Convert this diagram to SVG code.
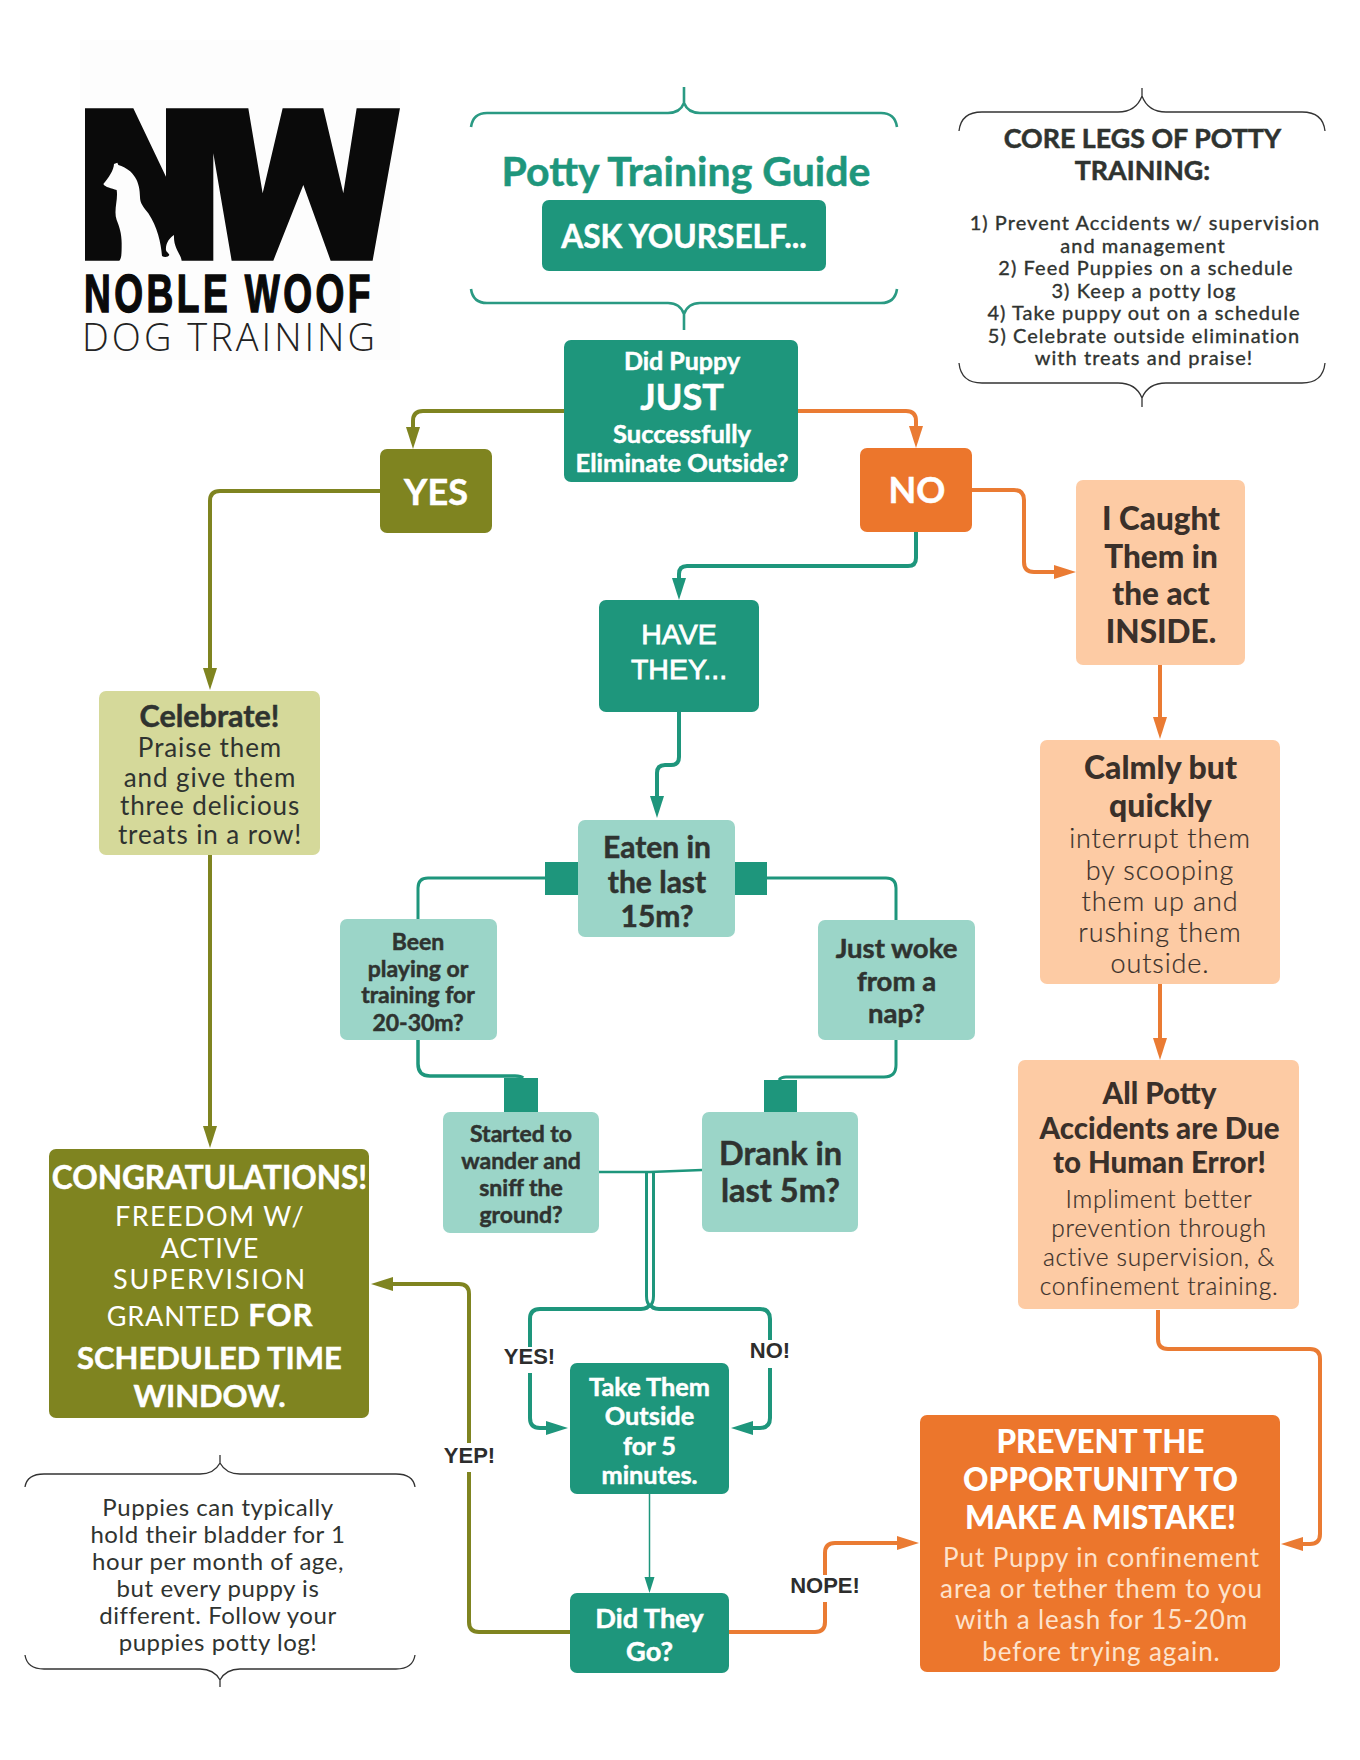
<svg xmlns="http://www.w3.org/2000/svg" width="1360" height="1760" viewBox="0 0 1360 1760">
<style>
text{font-family:Lato,"Liberation Sans",sans-serif;text-anchor:middle}
.b{font-weight:700;stroke-width:.5}.h{font-weight:900}
.w{fill:#fff}.d{fill:#2f3330}.br{fill:#3a302a}
.b.w{stroke:#fff}.b.d{stroke:#2f3330}
.teal{fill:#1e967c}.mint{fill:#9bd5c8}.oli{fill:#7f8420}.lime{fill:#d5d99a}.org{fill:#ec762c}.pch{fill:#fdcba4}
.body{letter-spacing:.9px}
.thin{font-weight:300;stroke:#3a302a;stroke-width:.2}
.lab{font-family:"Liberation Sans",Arial,sans-serif;font-weight:700;font-size:22px;fill:#2d2d2d}
.c{fill:none;stroke-width:4}
.ct{stroke:#1e967c}.co{stroke:#7f8420}.cr{stroke:#ea7b33}
.br1{fill:none;stroke:#333;stroke-width:1.3}
.br2{fill:none;stroke:#2a9a83;stroke-width:3}
</style>
<defs>
<marker id="at" markerUnits="userSpaceOnUse" markerWidth="22" markerHeight="16" refX="12" refY="8" orient="auto"><path d="M0 1L22 8L0 15Z" fill="#1e967c"/></marker>
<marker id="ao" markerUnits="userSpaceOnUse" markerWidth="22" markerHeight="16" refX="12" refY="8" orient="auto"><path d="M0 1L22 8L0 15Z" fill="#7f8420"/></marker>
<marker id="ar" markerUnits="userSpaceOnUse" markerWidth="22" markerHeight="16" refX="12" refY="8" orient="auto"><path d="M0 1L22 8L0 15Z" fill="#ea7b33"/></marker>
<marker id="as" markerUnits="userSpaceOnUse" markerWidth="16" markerHeight="12" refX="8" refY="6" orient="auto"><path d="M0 1L16 6L0 11Z" fill="#1e967c"/></marker>
</defs>
<rect width="1360" height="1760" fill="#fff"/>

<g id="logo">
<rect x="80" y="40" width="320" height="320" fill="#fdfdfd"/>
<g transform="translate(60 30) scale(.3333)">
<path d="M75 235H220L318 440V235H565L608 490L668 235H790L850 490L890 235H1020L938 692H812L730 465L640 692H515L460 370V692H365C362 670 340 655 342 615C330 622 316 640 318 660C320 668 328 670 328 675C325 682 312 682 306 678C303 640 292 590 265 550C250 530 240 520 240 500C240 460 225 420 175 405L172 398L162 402C162 420 145 445 130 462C135 472 155 475 170 480C175 510 160 540 170 570C178 590 185 610 185 640C185 670 185 685 178 692H75Z" fill="#0a0a0a"/>
</g>
<text transform="translate(229 312) scale(.7 1)" x="0" y="0" font-weight="700" font-size="53" fill="#0a0a0a" stroke="#0a0a0a" stroke-width="1.4" letter-spacing="4.9" style="font-family:'Liberation Sans',sans-serif">NOBLE WOOF</text>
<text x="228.5" y="351" font-size="38" fill="#222" textLength="293" lengthAdjust="spacing" style="font-family:'Open Sans',sans-serif;font-weight:300">DOG TRAINING</text>
</g>

<g id="connectors">
<path class="c co" marker-end="url(#ao)" d="M564 411H423Q413 411 413 421V439"/>
<path class="c cr" marker-end="url(#ar)" d="M798 411H906Q916 411 916 421V438"/>
<path class="c co" marker-end="url(#ao)" d="M380 491H220Q210 491 210 501V680"/>
<path class="c co" d="M210 855V1138" marker-end="url(#ao)"/>
<path class="c cr" marker-end="url(#ar)" d="M972 490H1014Q1024 490 1024 500V562Q1024 572 1034 572H1066"/>
<path class="c cr" marker-end="url(#ar)" d="M1160 665V729"/>
<path class="c cr" marker-end="url(#ar)" d="M1160 984V1050"/>
<path class="c cr" marker-end="url(#ar)" d="M1158 1310V1339Q1158 1349 1168 1349H1310Q1320 1349 1320 1359V1534Q1320 1544 1310 1544H1291"/>
<path class="c ct" marker-end="url(#at)" d="M916 532V558Q916 566 908 566H687Q679 566 679 574V590"/>
<path class="c ct" marker-end="url(#at)" d="M679 712V757Q679 765 671 765H665Q657 765 657 773V808"/>
<path class="c ct" d="M545 878H428Q418 878 418 888V919" style="stroke-width:3"/>
<path class="c ct" d="M767 878H886Q896 878 896 888V920" style="stroke-width:3"/>
<path class="c ct" d="M418 1040V1064Q418 1076 430 1076H515Q521 1076 523 1078" style="stroke-width:3.5"/>
<path class="c ct" d="M896 1040V1065Q896 1077 884 1077H786Q781 1077 779 1080" style="stroke-width:3"/>
<path class="c ct" d="M599 1172H650L702 1170" style="stroke-width:2.5"/>
<path class="c ct" d="M646.5 1172V1296Q646.5 1303 650 1306Q653.5 1303 653.5 1296V1172" style="stroke-width:3"/>
<path class="c ct" marker-end="url(#at)" d="M650 1304Q648 1309 641 1309H540Q530 1309 530 1319V1418Q530 1428 540 1428H558"/>
<path class="c ct" marker-end="url(#at)" d="M650 1304Q652 1309 659 1309H760Q770 1309 770 1319V1418Q770 1428 760 1428H741"/>
<path class="c ct" marker-end="url(#as)" d="M649.5 1494V1585" style="stroke-width:1.5"/>
<path class="c co" marker-end="url(#ao)" d="M570 1632H479Q469 1632 469 1622V1294Q469 1284 459 1284H381"/>
<path class="c cr" marker-end="url(#ar)" d="M729 1632H815Q825 1632 825 1622V1553Q825 1543 835 1543H909"/>
<rect x="510" y="1347" width="40" height="26" fill="#fff"/>
<rect x="750" y="1340" width="40" height="28" fill="#fff"/>
<rect x="450" y="1443" width="40" height="29" fill="#fff"/>
<rect x="805" y="1575" width="40" height="27" fill="#fff"/>
</g>
<text class="lab" x="529.5" y="1364">YES!</text>
<text class="lab" x="770" y="1358">NO!</text>
<text class="lab" x="469.5" y="1463">YEP!</text>
<text class="lab" x="825" y="1593">NOPE!</text>

<g id="title">
<path d="M471 127Q473 113 487 113H668Q680 113 684 103V87V103Q688 113 700 113H881Q895 113 897 127" fill="none" stroke="#2a9a83" stroke-width="2.6"/>
<text class="b" x="686" y="186" font-size="41" fill="#1e967c" stroke="#1e967c" stroke-width=".5">Potty Training Guide</text>
</g>
<g id="ask"><rect class="teal" x="542" y="200" width="284" height="71" rx="7"/><text class="b w" x="684" y="248" font-size="31.6">ASK YOURSELF...</text></g>
<path d="M471 289Q473 303 487 303H668Q680 303 684 314V330V314Q688 303 700 303H881Q895 303 897 289" fill="none" stroke="#2a9a83" stroke-width="2.6"/>

<g id="core">
<path class="br1" d="M959 131Q961 112 982 112H1118Q1136 112 1142 96V88V96Q1148 112 1166 112H1302Q1323 112 1325 131"/>
<text class="b d" x="1142.5" y="148" font-size="26.8">CORE LEGS OF POTTY</text>
<text class="b d" x="1142.5" y="180" font-size="26.8">TRAINING:</text>
<g class="d body" font-size="20" style="letter-spacing:1.05px" stroke="#2f3330" stroke-width=".35">
<text x="1145" y="230">1) Prevent Accidents w/ supervision</text>
<text x="1143" y="253">and management</text>
<text x="1146" y="275">2) Feed Puppies on a schedule</text>
<text x="1144" y="298">3) Keep a potty log</text>
<text x="1144" y="320">4) Take puppy out on a schedule</text>
<text x="1144" y="343">5) Celebrate outside elimination</text>
<text x="1144" y="365">with treats and praise!</text>
</g>
<path class="br1" d="M959 363Q961 383 982 383H1118Q1136 383 1142 398V407V398Q1148 383 1166 383H1302Q1323 383 1325 363"/>
</g>

<g id="just"><rect class="teal" x="564" y="340" width="234" height="142" rx="7"/>
<g class="b w"><text x="682" y="370" font-size="25">Did Puppy</text><text x="682" y="410" font-size="36">JUST</text><text x="682" y="443" font-size="25.5">Successfully</text><text x="682" y="472" font-size="25.5">Eliminate Outside?</text></g></g>
<g id="yes"><rect class="oli" x="380" y="449" width="112" height="84" rx="7"/><text class="b w" x="436" y="505" font-size="36">YES</text></g>
<g id="no"><rect class="org" x="860" y="448" width="112" height="84" rx="7"/><text class="b w" x="917" y="503" font-size="36">NO</text></g>
<g id="celebrate"><rect class="lime" x="99" y="691" width="221" height="164" rx="7"/>
<text class="b d" x="209.5" y="727" font-size="30.5">Celebrate!</text>
<g class="d body" font-size="26"><text x="210" y="757">Praise them</text><text x="210" y="787">and give them</text><text x="210" y="815">three delicious</text><text x="210" y="844">treats in a row!</text></g></g>
<g id="congrats"><rect class="oli" x="49" y="1149" width="320" height="269" rx="7"/>
<text class="b w" x="209.5" y="1189" font-size="31.5">CONGRATULATIONS!</text>
<g class="w body" font-size="27"><text x="210" y="1226" style="letter-spacing:1.4px">FREEDOM W/</text><text x="210" y="1258">ACTIVE</text><text x="210" y="1289" style="letter-spacing:1.9px">SUPERVISION</text><text x="210" y="1326">GRANTED <tspan class="b" font-size="31" stroke="#fff">FOR</tspan></text></g>
<text class="b w" x="209.5" y="1369" font-size="31">SCHEDULED TIME</text><text class="b w" x="209.5" y="1407" font-size="31">WINDOW.</text></g>
<g id="note">
<path class="br1" d="M25 1487Q27 1474 44 1474H200Q214 1474 220 1463V1455V1463Q226 1474 240 1474H396Q413 1474 415 1487"/>
<g class="d body" font-size="24" style="letter-spacing:.55px"><text x="218" y="1516">Puppies can typically</text><text x="218" y="1543">hold their bladder for 1</text><text x="218" y="1570">hour per month of age,</text><text x="218" y="1597">but every puppy is</text><text x="218" y="1624">different. Follow your</text><text x="218" y="1651">puppies potty log!</text></g>
<path class="br1" d="M25 1655Q27 1669 44 1669H200Q214 1669 220 1680V1687V1680Q226 1669 240 1669H396Q413 1669 415 1655"/>
</g>
<g id="have"><rect class="teal" x="599" y="600" width="160" height="112" rx="7"/>
<g font-size="28.5" class="w" stroke="#fff" stroke-width=".8"><text x="679" y="644" style="font-family:'Liberation Sans',sans-serif">HAVE</text><text x="679" y="679" style="font-family:'Liberation Sans',sans-serif">THEY...</text></g></g>
<g id="eaten"><rect class="teal" x="545" y="862" width="33" height="33"/><rect class="teal" x="735" y="862" width="32" height="33"/><rect class="mint" x="578" y="820" width="157" height="117" rx="7"/>
<g class="b d" font-size="30"><text x="657" y="858">Eaten in</text><text x="657" y="893">the last</text><text x="657" y="927">15m?</text></g></g>
<g id="been"><rect class="mint" x="340" y="919" width="157" height="121" rx="7"/>
<g class="b d" font-size="23"><text x="418" y="950">Been</text><text x="418" y="977">playing or</text><text x="418" y="1003">training for</text><text x="418" y="1031">20-30m?</text></g></g>
<g id="woke"><rect class="mint" x="818" y="920" width="157" height="120" rx="7"/>
<g class="b d" font-size="27.5"><text x="896.5" y="958">Just woke</text><text x="896.5" y="991">from a</text><text x="896.5" y="1023">nap?</text></g></g>
<g id="started"><rect class="teal" x="504" y="1078" width="34" height="34"/><rect class="mint" x="443" y="1112" width="156" height="121" rx="7"/>
<g class="b d" font-size="23"><text x="521" y="1142">Started to</text><text x="521" y="1169">wander and</text><text x="521" y="1196">sniff the</text><text x="521" y="1223">ground?</text></g></g>
<g id="drank"><rect class="teal" x="764" y="1080" width="33" height="32"/><rect class="mint" x="702" y="1112" width="156" height="120" rx="7"/>
<g class="b d" font-size="32.5"><text x="780.5" y="1165">Drank in</text><text x="780.5" y="1202">last 5m?</text></g></g>
<g id="take"><rect class="teal" x="570" y="1363" width="159" height="131" rx="7"/>
<g class="b w" font-size="25.3"><text x="649.5" y="1396">Take Them</text><text x="649.5" y="1425">Outside</text><text x="649.5" y="1455">for 5</text><text x="649.5" y="1484">minutes.</text></g></g>
<g id="go"><rect class="teal" x="570" y="1593" width="159" height="80" rx="7"/>
<g class="b w" font-size="27.2"><text x="649.5" y="1628">Did They</text><text x="649.5" y="1661">Go?</text></g></g>
<g id="caught"><rect class="pch" x="1076" y="480" width="169" height="185" rx="7"/>
<g class="h br" font-size="31.5"><text x="1161" y="530">I Caught</text><text x="1161" y="568">Them in</text><text x="1161" y="605">the act</text><text x="1161" y="643">INSIDE.</text></g></g>
<g id="calmly"><rect class="pch" x="1040" y="740" width="240" height="244" rx="7"/>
<g class="h br" font-size="32"><text x="1160.5" y="779">Calmly but</text><text x="1160.5" y="817">quickly</text></g>
<g class="br body thin" font-size="27"><text x="1160" y="848">interrupt them</text><text x="1160" y="880">by scooping</text><text x="1160" y="911">them up and</text><text x="1160" y="942">rushing them</text><text x="1160" y="973">outside.</text></g></g>
<g id="error"><rect class="pch" x="1018" y="1060" width="281" height="249" rx="7"/>
<g class="h br" font-size="29.5"><text x="1159.5" y="1104">All Potty</text><text x="1159.5" y="1139">Accidents are Due</text><text x="1159.5" y="1173">to Human Error!</text></g>
<g class="br body thin" font-size="24.5" style="letter-spacing:.7px"><text x="1159" y="1208">Impliment better</text><text x="1159" y="1237">prevention through</text><text x="1159" y="1266">active supervision, &amp;</text><text x="1159" y="1295">confinement training.</text></g></g>
<g id="prevent"><rect class="org" x="920" y="1415" width="360" height="257" rx="7"/>
<g class="h w" font-size="31.4"><text x="1100.5" y="1453">PREVENT THE</text><text x="1100.5" y="1491">OPPORTUNITY TO</text><text x="1100.5" y="1529">MAKE A MISTAKE!</text></g>
<g font-size="26" class="body" fill="#fde3cd"><text x="1101.5" y="1567">Put Puppy in confinement</text><text x="1101.5" y="1598">area or tether them to you</text><text x="1101.5" y="1629">with a leash for 15-20m</text><text x="1101.5" y="1661">before trying again.</text></g></g>
</svg>
